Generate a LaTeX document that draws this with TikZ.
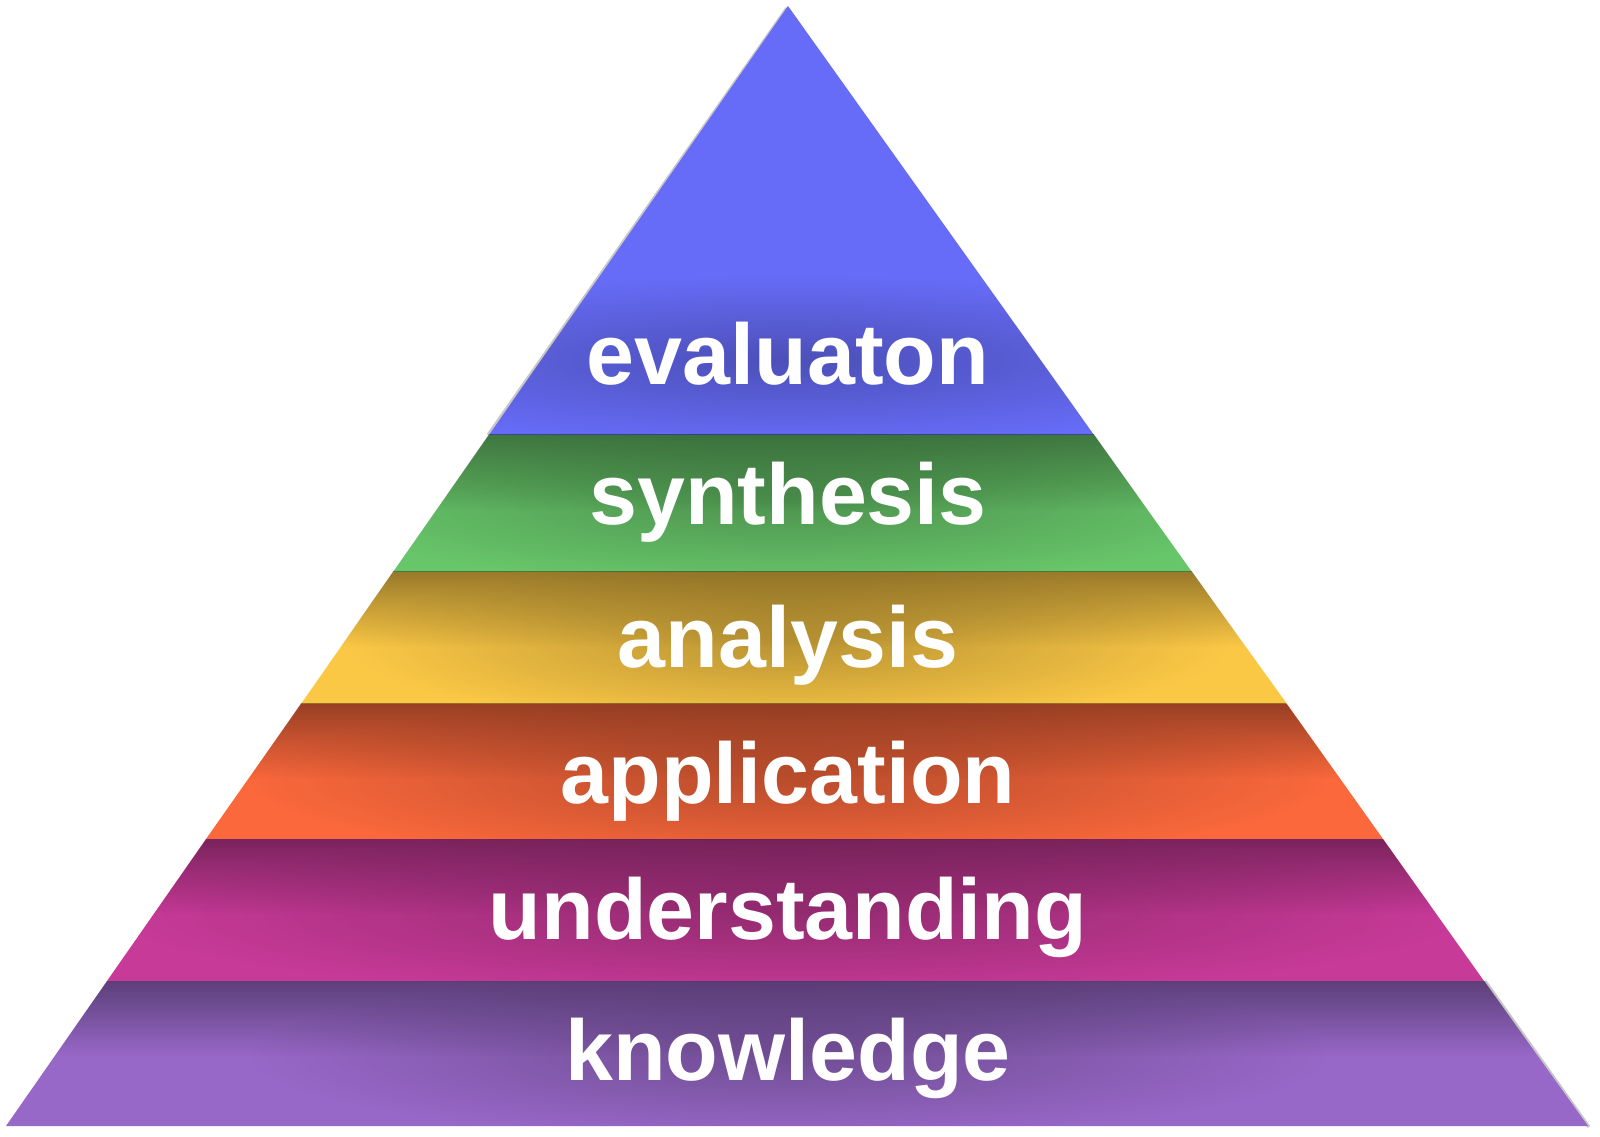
\documentclass[tikz,border=0pt]{standalone}
\usepackage{fontspec}
\setmainfont{Liberation Sans}
\usetikzlibrary{fadings}
\definecolor{evalblue}{RGB}{103,108,248}
\definecolor{synthgreen}{RGB}{104,198,106}
\definecolor{analyellow}{RGB}{251,200,70}
\definecolor{applorange}{RGB}{250,104,60}
\definecolor{undermagenta}{RGB}{200,58,152}
\definecolor{knowpurple}{RGB}{152,104,200}
\tikzfading[name=fadedown, top color=transparent!48, bottom color=transparent!100]
\tikzfading[name=halo, inner color=transparent!74, outer color=transparent!100]
\tikzset{level/.style={font=\fontsize{24.5}{29}\selectfont\bfseries, text=white, anchor=base},
  rim/.style={draw=black!22, line width=0.9pt}}
\begin{document}
\begin{tikzpicture}[x=0.01cm,y=-0.01cm]
\useasboundingbox (0,0) rectangle (1600,1137);
\coordinate (apex) at (788,6);
\coordinate (bl) at (6,1126);
\coordinate (br) at (1588,1126);
\draw[rim] (787,8)--(488,435);
\draw[rim] (1485,981)--(1589,1127);
\fill[evalblue] (apex)--(1094,435)--(489,435)--cycle;
\fill[synthgreen] (489,435)--(1094,435)--(1192,572)--(393,572)--cycle;
\fill[analyellow] (393,572)--(1192,572)--(1287,704)--(301,704)--cycle;
\fill[applorange] (301,704)--(1287,704)--(1383,839)--(206,839)--cycle;
\fill[undermagenta] (206,839)--(1383,839)--(1484,981)--(107,981)--cycle;
\fill[knowpurple] (107,981)--(1484,981)--(br)--(bl)--cycle;
\begin{scope}
\clip (apex)--(br)--(bl)--cycle;
\foreach \t/\b/\c/\r in {6/435/360/250, 435/572/500/245, 572/704/643/220, 704/839/779/270, 839/981/914/335, 981/1126/1055/270}{
  \begin{scope}
  \clip (0,\t) rectangle (1600,\b);
  \fill[black,path fading=halo] (788,\c) ellipse ({2*\r} and 84);
  \ifnum\t>6
  \fill[black,path fading=fadedown] (0,\t-25) rectangle (1600,\t+75);
  \fi
  \end{scope}
}
\end{scope}
\node[level] (evaluaton) at (788,385) {evaluaton};
\node[level] (synthesis) at (788,525) {synthesis};
\node[level] (analysis) at (788,668) {analysis};
\node[level] (application) at (788,804) {application};
\node[level] (understanding) at (788,939) {understanding};
\node[level] (knowledge) at (788,1080) {knowledge};
\end{tikzpicture}
\end{document}
